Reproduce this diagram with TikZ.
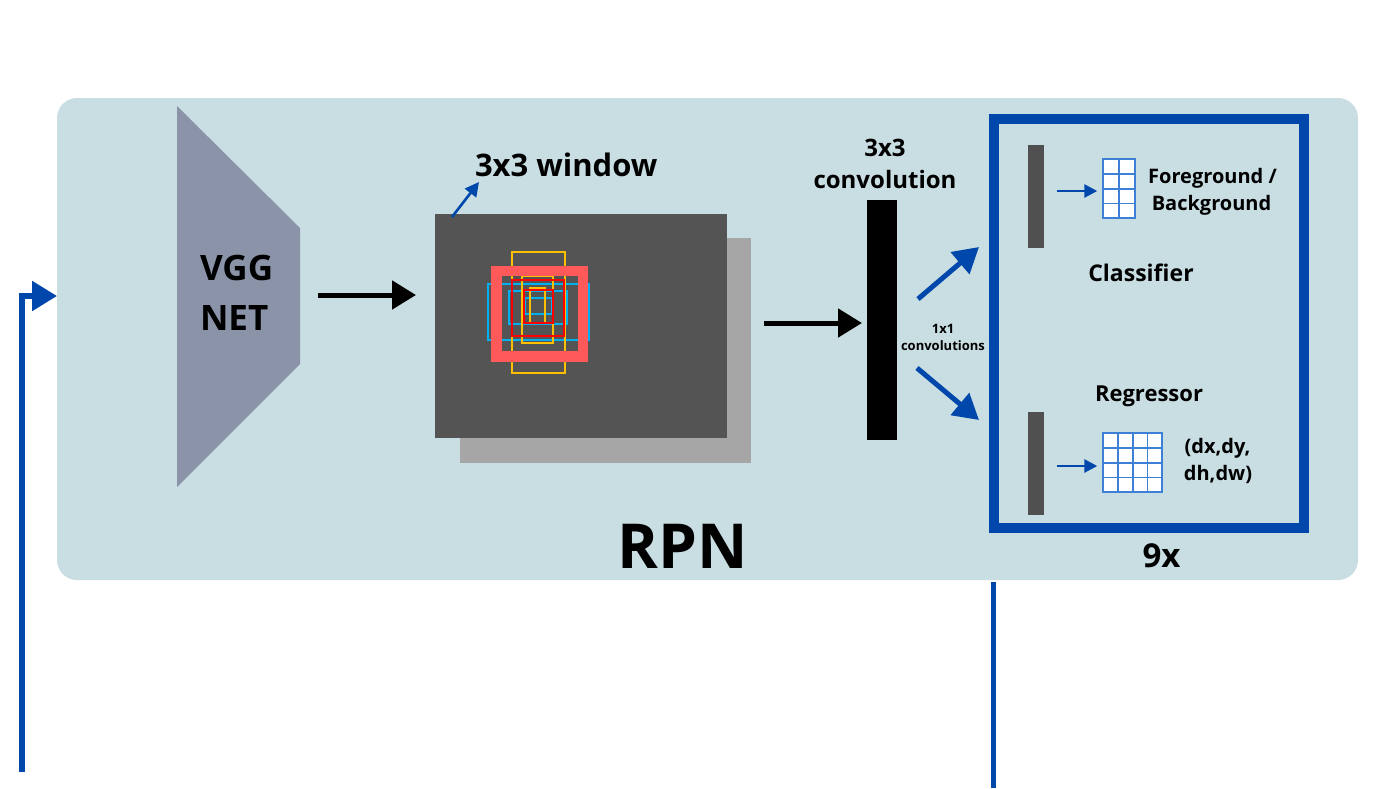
\documentclass[tikz,border=0pt]{standalone}
\usepackage{fontspec}
\setmainfont{Open Sans}
\usetikzlibrary{arrows.meta,calc}
\definecolor{panelc}{RGB}{201,222,227}
\definecolor{vggc}{RGB}{138,147,168}
\definecolor{mapdark}{RGB}{84,84,84}
\definecolor{maplight}{RGB}{166,166,166}
\definecolor{barc}{RGB}{80,80,80}
\definecolor{bluec}{RGB}{0,71,171}
\definecolor{gridc}{RGB}{62,128,214}
\definecolor{salmon}{RGB}{255,89,89}
\definecolor{yel}{RGB}{255,192,0}
\definecolor{cyn}{RGB}{0,176,240}
\definecolor{redc}{RGB}{255,0,0}
\newcommand\myfs[1]{\fontsize{#1}{#1}\selectfont\bfseries}
\begin{document}
\begin{tikzpicture}[x=1pt,y=-1pt,
  lbl/.style={inner sep=0pt, outer sep=0pt, text=black},
  box/.style={inner sep=0pt, outer sep=0pt, anchor=north west},
  blkarrow/.style={draw=black, line width=5pt, -{Triangle[length=24pt,width=28pt]}},
  bigblue/.style={draw=bluec, line width=5pt, -{Triangle[length=25pt,width=28pt]}},
  smallblue/.style={draw=bluec, line width=2.6pt, -{Triangle[length=13pt,width=13pt]}},
  tinyblue/.style={draw=bluec, line width=2.6pt, -{Triangle[length=14pt,width=14pt]}},
  gridbox/.style={box, fill=white, draw=gridc, line width=1.8pt},
  gridline/.style={draw=gridc, line width=1.8pt},
  anc/.style={line width=1.6pt}
]
\useasboundingbox (0,0) rectangle (1400,788);
\fill[white] (0,0) rectangle (1400,788);

% main panel
\node[box, fill=panelc, rounded corners=20pt, minimum width=1301pt, minimum height=482pt] (rpn) at (57,98) {};

% VGG trapezoid
\fill[vggc] (177,106) -- (300,228) -- (300,364) -- (177,487) -- cycle;
\node[lbl, anchor=base west, font=\myfs{35}] (vgg1) at (200,280) {VGG};
\node[lbl, anchor=base west, font=\myfs{35}] (vgg2) at (200,330) {NET};
\coordinate (vggR) at (300,295);

% feature maps
\node[box, fill=maplight, minimum width=291pt, minimum height=225pt] (fmapb) at (460,238) {};
\node[box, fill=mapdark, minimum width=292pt, minimum height=224pt] (fmap) at (435,214) {};

% anchor boxes
\draw[anc, draw=cyn] (488,284) rectangle (589,340);
\draw[anc, draw=cyn] (509,291) rectangle (567,324);
\draw[anc, draw=cyn] (525,298) rectangle (552,314);
\draw[anc, draw=yel] (512,252) rectangle (565,373);
\draw[anc, draw=yel] (522,276) rectangle (553,343);
\draw[anc, draw=yel] (530,288) rectangle (545,323);
\draw[line width=10.5pt, draw=salmon] (496.5,271) rectangle (583,356.5);
\draw[anc, draw=redc] (512,280) rectangle (564,336);
\draw[anc, draw=redc] (524,290) rectangle (553,323);

% 3x3 window label and arrow
\node[lbl, anchor=base west, font=\myfs{31}] (win) at (475,176) {3x3 window};
\coordinate (winS) at (452,217);
\coordinate (winT) at (479,182);
\draw[tinyblue] (winS) -- (winT);

% arrow VGG -> feature map
\draw[blkarrow, shorten <=18pt, shorten >=19pt] (vggR) -- (vggR -| fmap.west);

% conv bar
\node[box, fill=black, minimum width=30pt, minimum height=240pt] (conv) at (867,199.5) {};
\node[lbl, anchor=base, font=\myfs{24}] (c1) at (885,156) {3x3};
\node[lbl, anchor=base, font=\myfs{24}] (c2) at (885,188) {convolution};
\coordinate (convY) at (0,323);
\draw[blkarrow, shorten <=13pt, shorten >=5pt] (fmapb.east |- convY) -- (conv.west |- convY);

% 1x1 convolutions
\node[lbl, anchor=base, font=\myfs{13}] (o1) at (943,333) {1x1};
\node[lbl, anchor=base, font=\myfs{13}] (o2) at (943,350) {convolutions};
\coordinate (a1s) at (918,299);
\coordinate (a1t) at (979,247);
\coordinate (a2s) at (917,368);
\coordinate (a2t) at (979,420);
\draw[bigblue] (a1s) -- (a1t);
\draw[bigblue] (a2s) -- (a2t);

% head box
\node[inner sep=0pt, draw=bluec, line width=10pt, minimum width=310pt, minimum height=409pt] (head) at (1149,323.5) {};

% bars
\node[box, fill=barc, minimum width=16.5pt, minimum height=103pt] (bar1) at (1027.7,145) {};
\node[box, fill=barc, minimum width=16.5pt, minimum height=103pt] (bar2) at (1027.7,412) {};

% grids
\node[gridbox, minimum width=31.7pt, minimum height=59pt] (g1) at (1103.3,159.3) {};
\foreach \i in {1,2,3}
  \draw[gridline] ($(g1.north west)+(0,\i*14.75)$) -- ($(g1.north east)+(0,\i*14.75)$);
\draw[gridline] (g1.north) -- (g1.south);
\node[gridbox, minimum width=59pt, minimum height=59pt] (g2) at (1103.3,433.3) {};
\foreach \i in {1,2,3} {
  \draw[gridline] ($(g2.north west)+(0,\i*14.75)$) -- ($(g2.north east)+(0,\i*14.75)$);
  \draw[gridline] ($(g2.north west)+(\i*14.75,0)$) -- ($(g2.south west)+(\i*14.75,0)$);
}
\coordinate (s1) at (0,191);
\coordinate (s2) at (0,466);
\draw[smallblue, shorten <=13pt, shorten >=6pt] (bar1.east |- s1) -- (g1.west |- s1);
\draw[smallblue, shorten <=13pt, shorten >=6pt] (bar2.east |- s2) -- (g2.west |- s2);

% head labels
\node[lbl, anchor=base, font=\myfs{20}] (fg) at (1212.5,183) {Foreground /};
\node[lbl, anchor=base, font=\myfs{20}] (bg) at (1211.5,210) {Background};
\node[lbl, anchor=base, font=\myfs{23}] (cls) at (1141,281) {Classifier};
\node[lbl, anchor=base, font=\myfs{22}] (reg) at (1149,401) {Regressor};
\node[lbl, anchor=base, font=\myfs{20}] (d1) at (1217.5,453) {(dx,dy,};
\node[lbl, anchor=base, font=\myfs{20}] (d2) at (1218,480) {dh,dw)};

% RPN and 9x
\node[lbl, anchor=base, font=\myfs{62}] (rpnl) at (682.5,568) {RPN};
\node[lbl, anchor=base, font=\myfs{33}] (nine) at (1161.5,567) {9x};

% external connectors
\coordinate (lstart) at (22,772);
\coordinate (inY) at (0,296);
\draw[draw=bluec, line width=5.5pt, -{Triangle[length=25pt,width=29pt]}] (lstart) |- (rpn.west |- inY);
\coordinate (rbot) at (993,788);
\draw[draw=bluec, line width=5pt, shorten <=2pt] (rpn.south -| rbot) -- (rbot);
\end{tikzpicture}
\end{document}
